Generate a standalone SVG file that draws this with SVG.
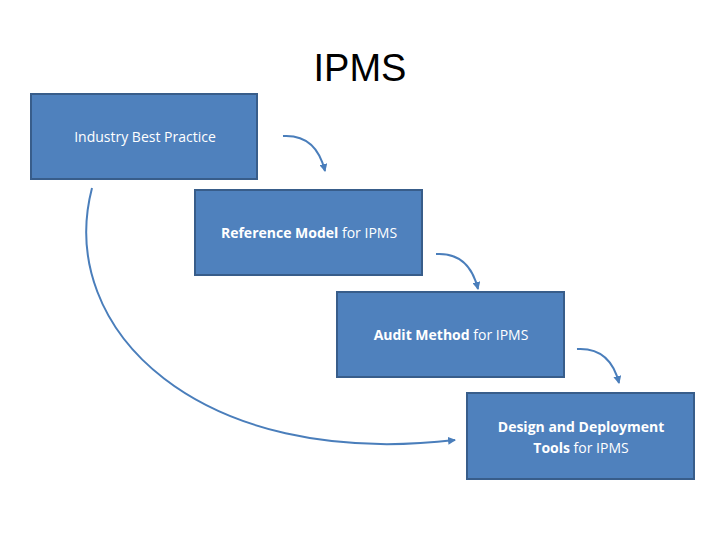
<svg xmlns="http://www.w3.org/2000/svg" width="720" height="540" viewBox="0 0 720 540">
<style>
.box{fill:#4F81BD;stroke:#385D8A;stroke-width:2}
.t{font-family:"Open Sans","Liberation Sans",sans-serif;font-size:14px;fill:#fff;text-anchor:middle}
.b{font-weight:bold}
.c{fill:none;stroke:#4A7EBB;stroke-width:2}
</style>
<defs><marker id="a" markerWidth="8" markerHeight="8" refX="7" refY="4" orient="auto" markerUnits="userSpaceOnUse"><path d="M0,0 L8,4 L0,8 Z" fill="#4A7EBB"/></marker></defs>
<rect width="720" height="540" fill="#fff"/>
<text x="360" y="81" font-family="'Liberation Sans',sans-serif" font-size="38" text-anchor="middle" fill="#000">IPMS</text>
<g id="n1"><rect class="box" x="31" y="94" width="226" height="85"/><text class="t" x="145" y="142">Industry Best Practice</text></g>
<g id="n2"><rect class="box" x="195" y="190" width="227" height="85"/><text class="t" x="309" y="238"><tspan class="b">Reference Model</tspan> for IPMS</text></g>
<g id="n3"><rect class="box" x="337" y="292" width="227" height="85"/><text class="t" x="451" y="340"><tspan class="b">Audit Method</tspan> for IPMS</text></g>
<g id="n4"><rect class="box" x="467" y="393" width="227" height="86"/><text class="t b" x="581" y="432">Design and Deployment</text><text class="t" x="581" y="453"><tspan class="b">Tools</tspan> for IPMS</text></g>
<g id="connectors">
<path class="c" d="M283,136 Q316,134 325,171" marker-end="url(#a)"/>
<path class="c" d="M436,254 Q469,252 478,289" marker-end="url(#a)"/>
<path class="c" d="M577,349 Q610,347 619,383" marker-end="url(#a)"/>
<path class="c" d="M92,188 C55,330 200,470 455,440" marker-end="url(#a)"/>
</g>
</svg>
